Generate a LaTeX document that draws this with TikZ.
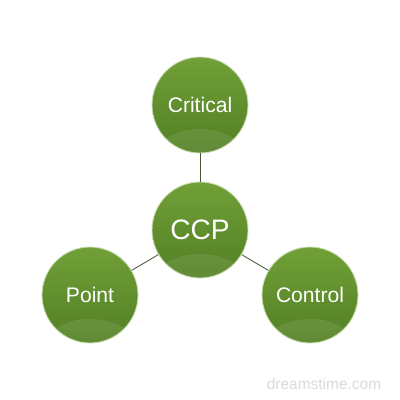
\documentclass[tikz,border=0pt]{standalone}
\usepackage{fontspec}
\setmainfont{Liberation Sans}
\usepackage{tikz}

\begin{document}
\begin{tikzpicture}[
    ball/.style={circle, minimum size=2.4cm, inner sep=0pt,
      top color=ballTop, bottom color=ballBottom,
      draw=ballRim, line width=0.6pt, text=white,
      font=\fontsize{15pt}{17pt}\selectfont,
      path picture={\fill[white, opacity=0.09]
        ([yshift=-0.9cm]path picture bounding box.south) ellipse (1.6cm and 1.5cm);}},
    link/.style={draw=linkGray, line width=0.6pt}
  ]
  \definecolor{ballTop}{HTML}{71A038}
  \definecolor{ballBottom}{HTML}{527F24}
  \definecolor{ballRim}{HTML}{C9DDB0}
  \definecolor{linkGray}{HTML}{4A5A3A}
  \useasboundingbox (0,0) rectangle (10,-10);

  \node[ball] (critical) at (5, -2.625) {Critical};
  \node[ball, font=\fontsize{20pt}{22pt}\selectfont] (ccp) at (5, -5.75) {CCP};
  \node[ball] (point) at (2.25, -7.375) {Point};
  \node[ball] (control) at (7.75, -7.375) {Control};

  \draw[link] (critical) to (ccp);
  \draw[link] (ccp) to (point);
  \draw[link] (ccp) to (control);

  \node[text=black!15, font=\fontsize{11pt}{12pt}\selectfont] (mark) at (8.1, -9.6) {dreamstime.com};
\end{tikzpicture}
\end{document}
